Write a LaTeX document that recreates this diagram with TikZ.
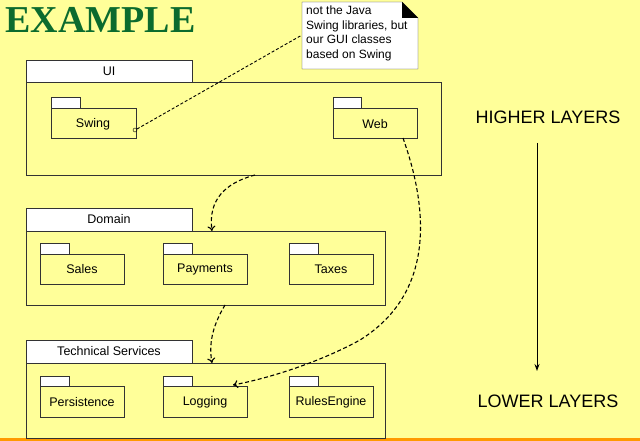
\documentclass[tikz,border=0pt]{standalone}
\usepackage{fontspec}
\setmainfont{Liberation Sans}
\newfontfamily\titlefont{Liberation Serif}
\usetikzlibrary{arrows.meta}
\definecolor{bg}{HTML}{FFFF99}
\definecolor{ttl}{HTML}{0B6B2E}
\begin{document}
\begin{tikzpicture}[x=1pt,y=-1pt,
  tab/.style={draw=black!80,fill=white,line width=0.8pt},
  body/.style={draw=black!80,line width=0.8pt},
  lbl/.style={font=\fontsize{12.5}{14}\selectfont},
  dep/.style={dash pattern=on 4pt off 2.5pt,line width=1.1pt,-{To[length=5pt,width=8pt]}}]
\useasboundingbox (0,0) rectangle (640,441);
\fill[bg] (0,0) rectangle (640,441);
\fill[orange!80!yellow] (0,438) rectangle (640,441);
\node[anchor=west,text=ttl,font=\titlefont\bfseries\fontsize{38}{40}\selectfont] (title) at (2,20) {EXAMPLE};
% UI
\draw[tab] (26,60) rectangle (192,82);
\node[lbl] (uil) at (109,71) {UI};
\draw[body] (26,82) rectangle (441,175);
\coordinate (uib) at (255,175);
\draw[tab] (51,97) rectangle (80,108);
\draw[body] (51,108) rectangle (136,138);
\node[lbl] (swing) at (93,124) {Swing};
\draw[tab] (333,97) rectangle (361,108);
\draw[body] (333,108) rectangle (417,138);
\node[lbl] (web) at (375,124) {Web};
\coordinate (webb) at (403,138);
\draw (135,130) circle (2);
\coordinate (swc) at (137,129);
% note
\draw[fill=white,draw=black!80] (302,2) -- (402,2) -- (418,18) -- (418,69) -- (302,69) -- cycle;
\fill[black] (402,2) -- (418,18) -- (402,18) -- cycle;
\node[anchor=north west,align=left,inner sep=0pt,font=\fontsize{12}{14.5}\selectfont] (note) at (306,6) {not the Java\\Swing libraries, but\\our GUI classes\\based on Swing};
\coordinate (notel) at (302,35);
\draw[dash pattern=on 3pt off 2pt,line width=0.9pt] (swc) -- (notel);
% Domain
\draw[tab] (26,208) rectangle (192,231);
\node[lbl] (doml) at (109,219) {Domain};
\draw[body] (26,231) rectangle (385,305);
\coordinate (domt) at (212,231);
\coordinate (domb) at (225,305);
\foreach \x/\t/\n in {40/Sales/sales,163/Payments/pay,289/Taxes/tax}{
  \draw[tab] (\x,243) rectangle (\x+29,254);
  \draw[body] (\x,254) rectangle (\x+84,284);
  \node[lbl] (\n) at (\x+42,269) {\t};
}
% Technical services
\draw[tab] (26,340) rectangle (192,363);
\node[lbl] (tsl) at (109,351) {Technical Services};
\draw[body] (26,363) rectangle (385,438);
\coordinate (tst) at (212,363);
\foreach \x/\t/\n in {40/Persistence/pers,163/Logging/log,289/RulesEngine/rules}{
  \draw[tab] (\x,376) rectangle (\x+29,386);
  \draw[body] (\x,386) rectangle (\x+84,417);
  \node[lbl] (\n) at (\x+42,402) {\t};
}
\coordinate (logt) at (233,385);
% dependencies
\draw[dep] (uib) .. controls (225,183) and (208,200) .. (domt);
\draw[dep] (domb) .. controls (215,322) and (208,340) .. (tst);
\draw[dep] (webb) .. controls (425,200) and (440,290) .. (360,340) .. controls (320,362) and (270,378) .. (logt);
% layers
\node[font=\fontsize{18}{20}\selectfont] (hi) at (548,117) {HIGHER LAYERS};
\node[font=\fontsize{18}{20}\selectfont] (lo) at (548,401) {LOWER LAYERS};
\draw[-{Stealth[length=7pt,width=5pt]},line width=1pt] (537,143) -- (537,371);
\end{tikzpicture}
\end{document}
